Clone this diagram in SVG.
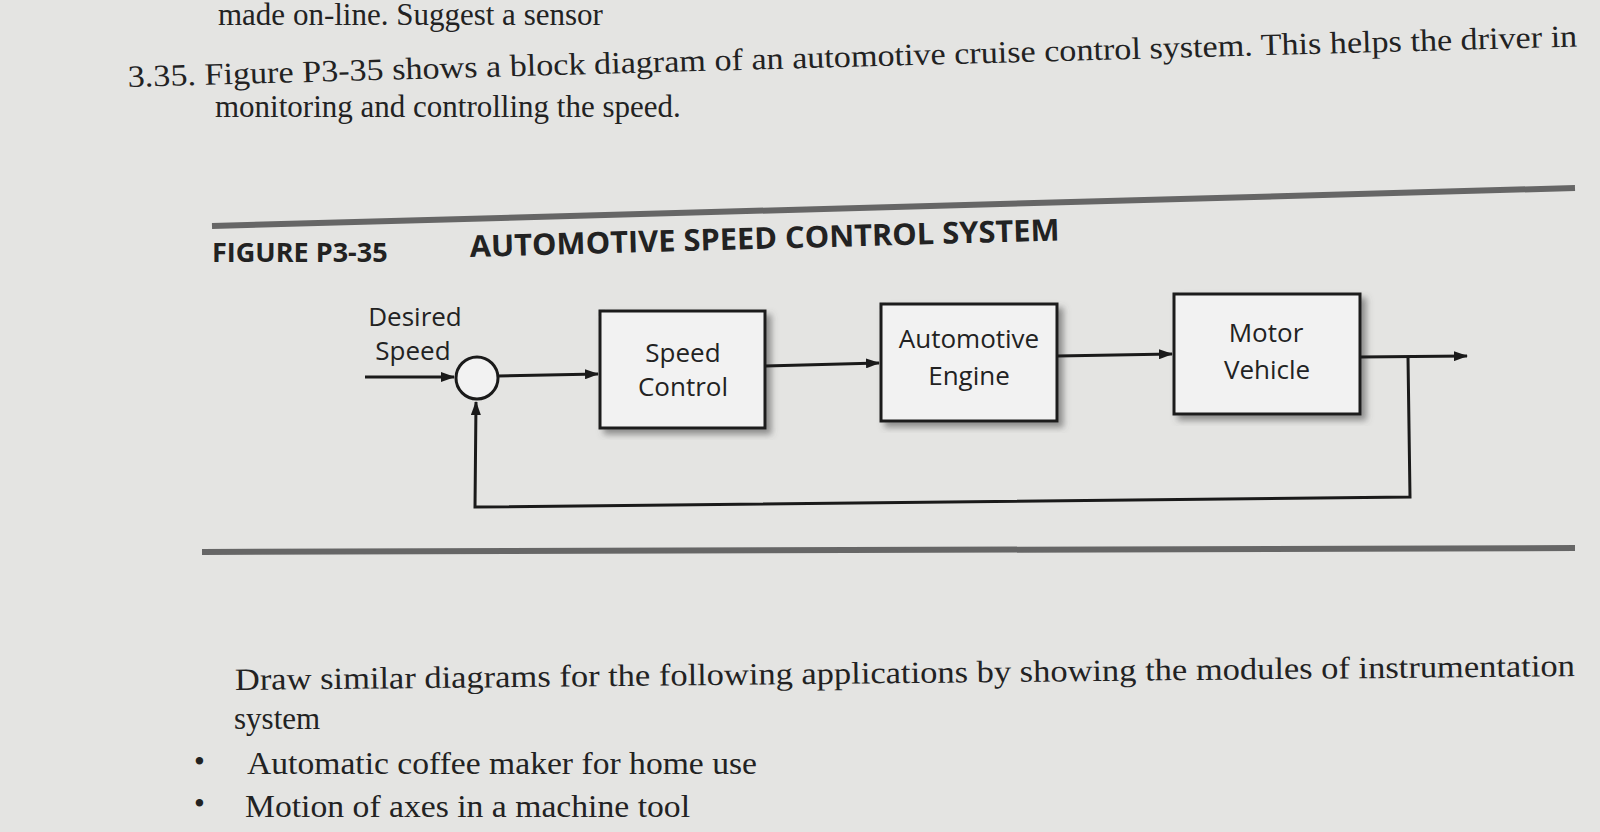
<svg xmlns="http://www.w3.org/2000/svg" width="1600" height="832" viewBox="0 0 1600 832">
<defs>
<marker id="ah" markerWidth="14" markerHeight="10" refX="13" refY="5" orient="auto" markerUnits="userSpaceOnUse"><path d="M0,0 L14,5 L0,10 z" fill="#1a1a1a"/></marker>
<filter id="sh"><feDropShadow dx="5" dy="5" stdDeviation="3" flood-color="#555" flood-opacity="0.6"/></filter>
</defs>
<style>
.serif{font-family:"Liberation Serif",serif;fill:#222;font-size:31px}
.sans{font-family:"Open Sans","DejaVu Sans",sans-serif;fill:#222}
.blk{fill:#f2f2f2;stroke:#1a1a1a;stroke-width:3;filter:url(#sh)}
.lbl{font-family:"Open Sans","DejaVu Sans",sans-serif;fill:#222;font-size:26px;text-anchor:middle}
.ln{stroke:#1a1a1a;stroke-width:3;fill:none}
</style>
<rect width="1600" height="832" fill="#e4e4e2"/>
<text class="serif" x="218" y="25" font-size="28">made on-line. Suggest a sensor</text>
<text class="serif" x="128" y="87" transform="rotate(-1.6 128 87)" textLength="1450" lengthAdjust="spacingAndGlyphs">3.35.  Figure P3-35 shows a block diagram of an automotive cruise control system. This helps the driver in</text>
<text class="serif" x="215" y="117">monitoring and controlling the speed.</text>
<line x1="212" y1="226" x2="1575" y2="188" stroke="#666" stroke-width="6"/>
<text class="sans" x="212" y="262" font-size="27" font-weight="bold" fill="#333">FIGURE P3-35</text>
<text class="sans" x="470" y="257" font-size="30" font-weight="bold" transform="rotate(-1.6 470 257)" textLength="590" lengthAdjust="spacingAndGlyphs">AUTOMOTIVE SPEED CONTROL SYSTEM</text>
<g id="desired"><text class="lbl" x="415" y="326">Desired</text><text class="lbl" x="413" y="360">Speed</text></g>
<g id="sum"><circle cx="477" cy="378" r="21" fill="#f2f2f2" stroke="#1a1a1a" stroke-width="3"/></g>
<g id="speed-control"><rect class="blk" x="600" y="311" width="165" height="117"/><text class="lbl" x="683" y="362">Speed</text><text class="lbl" x="683" y="396">Control</text></g>
<g id="engine"><rect class="blk" x="881" y="304" width="176" height="117"/><text class="lbl" x="969" y="348">Automotive</text><text class="lbl" x="969" y="385">Engine</text></g>
<g id="vehicle"><rect class="blk" x="1174" y="294" width="186" height="120"/><text class="lbl" x="1266" y="342">Motor</text><text class="lbl" x="1267" y="379">Vehicle</text></g>
<g id="connectors">
<line class="ln" x1="365" y1="377" x2="454" y2="377" marker-end="url(#ah)"/>
<line class="ln" x1="498" y1="376" x2="598" y2="374" marker-end="url(#ah)"/>
<line class="ln" x1="765" y1="366" x2="879" y2="363" marker-end="url(#ah)"/>
<line class="ln" x1="1057" y1="356" x2="1172" y2="354" marker-end="url(#ah)"/>
<line class="ln" x1="1360" y1="357" x2="1467" y2="356" marker-end="url(#ah)"/>
<polyline class="ln" points="1408,357 1410,497 475,507 476,402" marker-end="url(#ah)"/>
</g>
<line x1="202" y1="552" x2="1575" y2="548" stroke="#666" stroke-width="6"/>
<text class="serif" x="235" y="690" transform="rotate(-0.6 235 690)" textLength="1340" lengthAdjust="spacingAndGlyphs">Draw similar diagrams for the following applications by showing the modules of instrumentation</text>
<text class="serif" x="234" y="729">system</text>
<text class="serif" x="194" y="772">•</text><text class="serif" x="247" y="774" textLength="510" lengthAdjust="spacingAndGlyphs">Automatic coffee maker for home use</text>
<text class="serif" x="194" y="814">•</text><text class="serif" x="245" y="817" textLength="445" lengthAdjust="spacingAndGlyphs">Motion of axes in a machine tool</text>
</svg>
